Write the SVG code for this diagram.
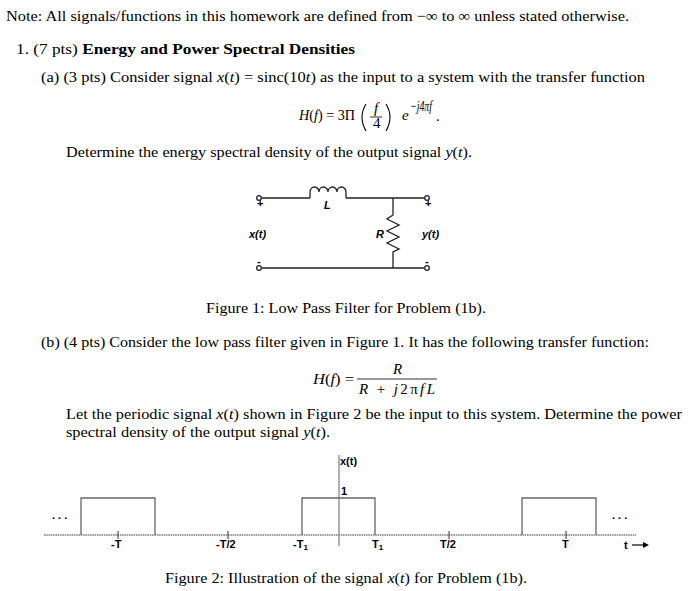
<svg xmlns="http://www.w3.org/2000/svg" width="697" height="591" viewBox="0 0 697 591">
<style>
.t{font-family:"Liberation Serif",serif;font-size:15px;fill:#000}
.b{font-weight:bold}
.i{font-style:italic}
.s{font-family:"Liberation Sans",sans-serif;font-weight:bold;font-size:11px;fill:#000}
.w{stroke:#222;stroke-width:1.3;fill:none}
.g{stroke:#666;stroke-width:1.3;fill:none}
</style>
<rect width="697" height="591" fill="#fff"/>
<g id="text">
<text class="t" x="6" y="21" textLength="623" lengthAdjust="spacingAndGlyphs">Note: All signals/functions in this homework are defined from −∞ to ∞ unless stated otherwise.</text>
<text class="t" x="16" y="54" textLength="339" lengthAdjust="spacingAndGlyphs">1. (7 pts) <tspan class="b">Energy and Power Spectral Densities</tspan></text>
<text class="t" x="41" y="82" textLength="604" lengthAdjust="spacingAndGlyphs">(a) (3 pts) Consider signal <tspan class="i">x</tspan>(<tspan class="i">t</tspan>) = sinc(10<tspan class="i">t</tspan>) as the input to a system with the transfer function</text>
<text class="t" x="299" y="120" textLength="56" lengthAdjust="spacingAndGlyphs"><tspan class="i">H</tspan>(<tspan class="i">f</tspan>) = 3Π</text>
<path d="M366,104 Q358,117 366,131 M386,104 Q394,117 386,131" stroke="#000" stroke-width="1.1" fill="none"/>
<text class="t i" x="374" y="113" font-size="11">f</text>
<line x1="370" y1="117" x2="382" y2="117" stroke="#000" stroke-width="0.8"/>
<text class="t" x="373" y="128" font-size="11">4</text>
<text class="t i" x="402" y="120">e</text>
<text class="t i" x="410" y="111" font-size="10" textLength="22" lengthAdjust="spacingAndGlyphs">−j4πf</text>
<text class="t" x="436" y="121">.</text>
<text class="t" x="66" y="157" textLength="406" lengthAdjust="spacingAndGlyphs">Determine the energy spectral density of the output signal <tspan class="i">y</tspan>(<tspan class="i">t</tspan>).</text>
<text class="t" x="206" y="313" textLength="280" lengthAdjust="spacingAndGlyphs">Figure 1: Low Pass Filter for Problem (1b).</text>
<text class="t" x="41" y="347" textLength="608" lengthAdjust="spacingAndGlyphs">(b) (4 pts) Consider the low pass filter given in Figure 1. It has the following transfer function:</text>
<text class="t" x="313" y="384" textLength="41" lengthAdjust="spacingAndGlyphs"><tspan class="i">H</tspan>(<tspan class="i">f</tspan>) =</text>
<text class="t i" x="393" y="374">R</text>
<line x1="357" y1="379" x2="437" y2="379" stroke="#000" stroke-width="0.8"/>
<text class="t" x="359" y="394" font-size="14" textLength="76" lengthAdjust="spacing"><tspan class="i">R</tspan> + <tspan class="i">j</tspan>2π<tspan class="i">fL</tspan></text>
<text class="t" x="66" y="419" textLength="616" lengthAdjust="spacingAndGlyphs">Let the periodic signal <tspan class="i">x</tspan>(<tspan class="i">t</tspan>) shown in Figure 2 be the input to this system. Determine the power</text>
<text class="t" x="66" y="437" textLength="264" lengthAdjust="spacingAndGlyphs">spectral density of the output signal <tspan class="i">y</tspan>(<tspan class="i">t</tspan>).</text>
<text class="t" x="165" y="583" textLength="362" lengthAdjust="spacingAndGlyphs">Figure 2: Illustration of the signal <tspan class="i">x</tspan>(<tspan class="i">t</tspan>) for Problem (1b).</text>
</g>
<g id="circuit">
<path class="w" d="M262,198 H310 M346,198 H424 M262,268 H424 M393,198 V215 L387,219 L399,225 L387,231 L399,237 L387,243 L399,249 L393,252 V268"/>
<path class="w" d="M310,198 V192 A4.5,5 0 0 1 319,192 A4.5,5 0 0 1 328,192 A4.5,5 0 0 1 337,192 A4.5,5 0 0 1 346,192 V198"/>
<circle cx="259" cy="198" r="2.3" class="w" stroke-width="1"/>
<circle cx="427" cy="198" r="2.3" class="w" stroke-width="1"/>
<circle cx="259" cy="268" r="2.3" class="w" stroke-width="1"/>
<circle cx="427" cy="268" r="2.3" class="w" stroke-width="1"/>
<text class="s" x="257" y="207" font-size="8">+</text>
<text class="s" x="425" y="207" font-size="8">+</text>
<text class="s" x="257" y="265" font-size="8">-</text>
<text class="s" x="425" y="265" font-size="8">-</text>
<text class="s i" x="324" y="209">L</text>
<text class="s i" x="249" y="238">x(t)</text>
<text class="s i" x="376" y="238">R</text>
<text class="s i" x="422" y="238">y(t)</text>
</g>
<g id="signal">
<line x1="44" y1="535" x2="636" y2="535" stroke="#333" stroke-width="1.2" stroke-dasharray="1.5,0.8"/>
<line x1="339" y1="455" x2="339" y2="546" stroke="#888" stroke-width="1.3"/>
<path class="g" d="M81,535 V498 H155 V535 M302,535 V498 H375 V535 M522,535 V498 H596 V535"/>
<path stroke="#333" stroke-width="1" d="M118,531 V539 M228,531 V539 M449,531 V539 M566,531 V539"/>
<text class="s" x="340" y="465">x(t)</text>
<text class="s" x="341" y="495">1</text>
<text class="s" x="52" y="519">. . .</text>
<text class="s" x="612" y="519">. . .</text>
<text class="s" x="111" y="548">-T</text>
<text class="s" x="216" y="548">-T/2</text>
<text class="s" x="293" y="548">-T<tspan font-size="8" dy="2">1</tspan></text>
<text class="s" x="372" y="548">T<tspan font-size="8" dy="2">1</tspan></text>
<text class="s" x="440" y="548">T/2</text>
<text class="s" x="562" y="548">T</text>
<text class="s" x="624" y="549">t</text>
<path d="M632,545 H645" stroke="#000" stroke-width="1.2"/>
<path d="M649,545 L643,542 V548 Z" fill="#000"/>
</g>
</svg>
